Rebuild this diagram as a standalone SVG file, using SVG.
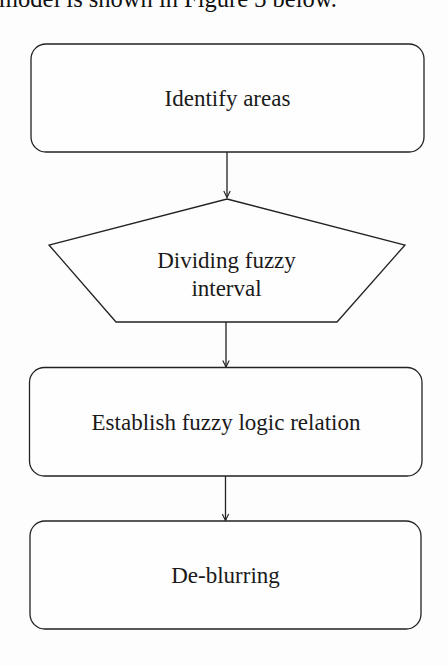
<svg xmlns="http://www.w3.org/2000/svg" width="448" height="666" viewBox="0 0 448 666">
<defs>
<style>
.node{fill:#fefefe;stroke:#222;stroke-width:1.3}
.lbl{font-family:"Liberation Serif","Times New Roman",serif;font-size:23px;fill:#1a1a1a;text-anchor:middle}
.edge{stroke:#222;stroke-width:1.3;fill:none}
.cap{font-family:"Liberation Serif","Times New Roman",serif;font-size:24.5px;fill:#111}
</style>
<marker id="arr" viewBox="0 0 10 10" refX="9" refY="5" markerWidth="8" markerHeight="8" markerUnits="userSpaceOnUse" orient="auto">
<path d="M1,1 L9,5 L1,9" fill="none" stroke="#222" stroke-width="1.4"/>
</marker>
</defs>
<rect width="448" height="666" fill="#fdfdfd"/>
<text class="cap" x="-1" y="7">model is shown in Figure 3 below.</text>
<g id="connectors">
<line class="edge" x1="227" y1="152" x2="227" y2="197.5" marker-end="url(#arr)"/>
<line class="edge" x1="226" y1="322" x2="226" y2="367" marker-end="url(#arr)"/>
<line class="edge" x1="225.5" y1="476" x2="225.5" y2="520.5" marker-end="url(#arr)"/>
</g>
<g id="identify">
<rect class="node" x="31" y="44" width="393" height="108" rx="15"/>
<text class="lbl" x="227.5" y="106">Identify areas</text>
</g>
<g id="dividing">
<polygon class="node" points="227,199 405,245 337,322 116,322 49,245"/>
<text class="lbl" x="226.5" y="268">Dividing fuzzy</text>
<text class="lbl" x="226.5" y="296">interval</text>
</g>
<g id="establish">
<rect class="node" x="29.5" y="367.5" width="392.5" height="108.5" rx="15"/>
<text class="lbl" x="226" y="430">Establish fuzzy logic relation</text>
</g>
<g id="deblurring">
<rect class="node" x="30" y="521" width="391" height="108" rx="15"/>
<text class="lbl" x="225.5" y="583">De-blurring</text>
</g>
</svg>
